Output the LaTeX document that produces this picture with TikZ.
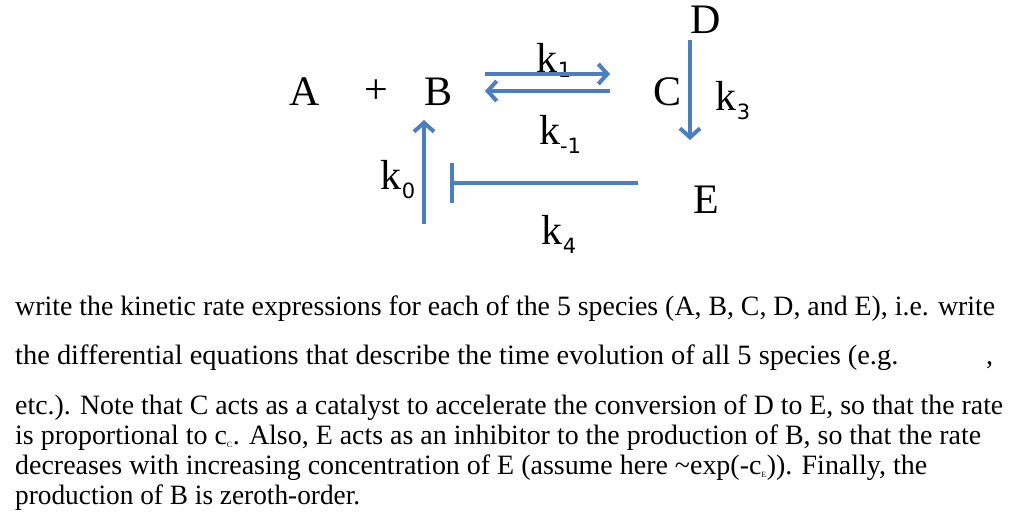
\documentclass[tikz,border=0pt]{standalone}
\usepackage{fontspec}
\setmainfont{Liberation Serif}
\newfontfamily\subf{DejaVu Sans}
\usetikzlibrary{arrows.meta}
\definecolor{arr}{HTML}{4A7EBF}
\newcommand{\fitline}[2]{\resizebox{#1pt}{\height}{#2}}
\newcommand{\ssub}[1]{\textsubscript{\fontsize{8}{8}\selectfont #1}}
\begin{document}
\begin{tikzpicture}[x=1pt,y=-1pt,
  sp/.style={font=\fontsize{42}{44}\selectfont, inner sep=0pt},
  ln/.style={anchor=base west, inner sep=0pt, font=\fontsize{28}{30}\selectfont},
  ar/.style={draw=arr, line width=4pt, -{Straight Barb[length=9pt,width=20pt,line width=4pt]}},
  inh/.style={draw=arr, line width=4pt, -{Bar[width=40pt,line width=4pt]}}]
\useasboundingbox (0,0) rectangle (1024,521);
\node[sp] (A) at (305,92) {A};
\node[sp] (plus) at (376,92) {+};
\node[sp] (B) at (438,92) {B};
\node[sp] (C) at (667,92) {C};
\node[sp] (D) at (706,20) {D};
\node[sp] (E) at (706,200) {E};
\node[sp] (k1) at (554,60) {k\raisebox{-5pt}{\subf\fontsize{21}{21}\selectfont 1}};
\node[sp] (km1) at (560,134) {k\raisebox{-9pt}{\subf\fontsize{21}{21}\selectfont -1}};
\node[sp] (k3) at (733,101) {k\raisebox{-9pt}{\subf\fontsize{21}{21}\selectfont 3}};
\node[sp] (k0) at (398,180) {k\raisebox{-9pt}{\subf\fontsize{21}{21}\selectfont 0}};
\node[sp] (k4) at (559,234) {k\raisebox{-9pt}{\subf\fontsize{21}{21}\selectfont 4}};
\coordinate (f1) at (485,74); \coordinate (t1) at (610,74);
\coordinate (f2) at (610,91); \coordinate (t2) at (485,91);
\coordinate (fd) at (690,40); \coordinate (td) at (690,140);
\coordinate (f0) at (424,224); \coordinate (t0) at (424,120);
\coordinate (f4) at (638,183); \coordinate (t4) at (450,183);
\draw[ar] (f1) -- (t1);
\draw[ar] (f2) -- (t2);
\draw[ar] (fd) -- (td);
\draw[ar] (f0) -- (t0);
\draw[inh] (f4) -- (t4);
\node[ln] (l1) at (15,315) {\fitline{980}{write the kinetic rate expressions for each of the 5 species (A, B, C, D, and E), i.e. write}};
\node[ln] (l2) at (15,364) {\fitline{883}{the differential equations that describe the time evolution of all 5 species (e.g.}};
\node[ln] (l2b) at (986,364) {,};
\node[ln] (l3) at (15,414) {\fitline{988}{etc.). Note that C acts as a catalyst to accelerate the conversion of D to E, so that the rate}};
\node[ln] (l4) at (15,444) {\fitline{966}{is proportional to c\ssub{C}. Also, E acts as an inhibitor to the production of B, so that the rate}};
\node[ln] (l5) at (15,474) {\fitline{912}{decreases with increasing concentration of E (assume here \textasciitilde exp(-c\ssub{E})). Finally, the}};
\node[ln] (l6) at (15,504) {\fitline{345}{production of B is zeroth-order.}};
\end{tikzpicture}
\end{document}
